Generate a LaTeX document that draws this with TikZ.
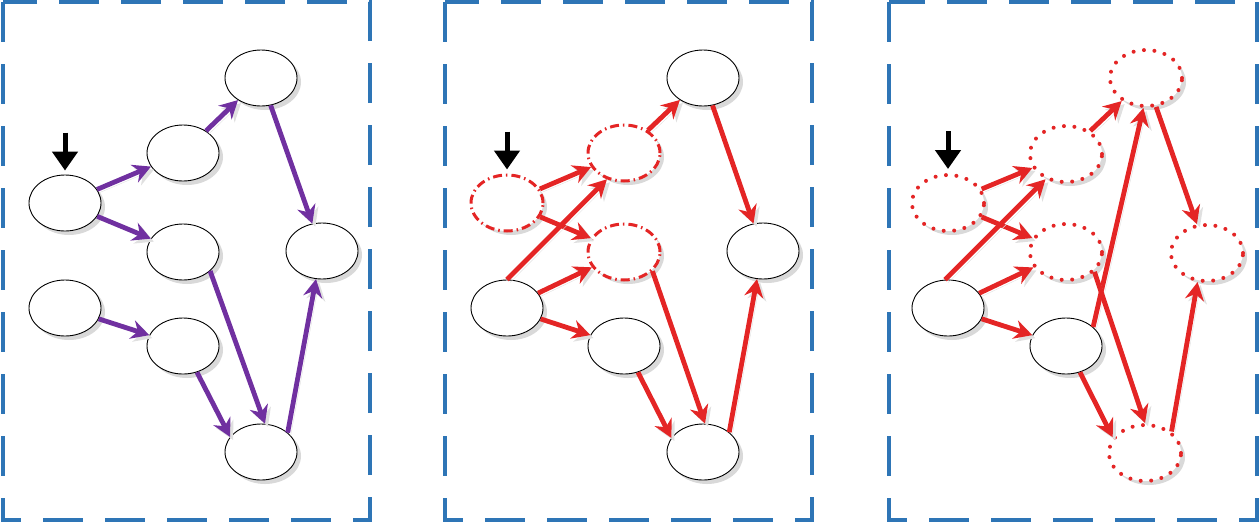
\documentclass[tikz,border=0pt]{standalone}
\usetikzlibrary{shapes.geometric,arrows.meta,calc,shadows}
\definecolor{BoxBlue}{RGB}{46,117,182}
\definecolor{PathPurple}{RGB}{112,48,160}
\definecolor{PathRed}{RGB}{228,37,37}
\begin{document}
\begin{tikzpicture}[x=1pt,y=-1pt,
  every node/.style={ellipse,draw,line width=0.9pt,fill=white,minimum width=72pt,minimum height=56pt,inner sep=0pt,drop shadow={shadow xshift=4pt,shadow yshift=-4pt,fill=black!15,opacity=1}},
  failed/.style={draw=PathRed,line width=3pt,dash pattern=on 9pt off 4pt on 1.5pt off 4pt},
  lost/.style={draw=PathRed,line width=4pt,line cap=round,dash pattern=on 0pt off 10.5pt},
  link/.style={line width=4.8pt,-{Stealth[length=18pt,width=19pt,inset=6pt]},preaction={draw=black!12,transform canvas={xshift=3pt,yshift=-3pt}}},
  purplelink/.style={link,draw=PathPurple},
  redlink/.style={link,draw=PathRed},
  pointer/.style={line width=5pt,-{Triangle[length=19pt,width=25pt]}},
  frame/.style={draw=BoxBlue,line width=4.5pt,dash pattern=on 40pt off 22pt}]
\useasboundingbox (0,0) rectangle (1260,523);
\draw[frame] (3,2) rectangle (370,520);
\draw[frame] (445,2) rectangle (812,520);
\draw[frame] (889,2) rectangle (1257,520);

\node (OneEntry) at (65,203) {};
\node (OneUpper) at (183,153) {};
\node (OneTop) at (261,78) {};
\node (OneCenter) at (183,252) {};
\node (OneSource) at (65,308) {};
\node (OneLower) at (183,346) {};
\node (OneRight) at (322,251) {};
\node (OneBottom) at (261,452) {};
\draw[pointer] ($(OneEntry.north)+(0,-42)$) -- ($(OneEntry.north)+(0,-4)$);
\draw[purplelink] (OneEntry) -- (OneUpper);
\draw[purplelink] (OneEntry) -- (OneCenter);
\draw[purplelink] (OneUpper) -- (OneTop);
\draw[purplelink] (OneTop) -- (OneRight);
\draw[purplelink] (OneCenter.-35) -- (OneBottom.82);
\draw[purplelink] (OneSource) -- (OneLower);
\draw[purplelink] (OneLower.-62) -- (OneBottom.154);
\draw[purplelink] (OneBottom.36) -- (OneRight.258);

\node[failed] (TwoEntry) at (507,203) {};
\node[failed] (TwoUpper) at (624,153) {};
\node (TwoTop) at (703,78) {};
\node[failed] (TwoCenter) at (624,252) {};
\node (TwoSource) at (507,308) {};
\node (TwoLower) at (624,346) {};
\node (TwoRight) at (763,251) {};
\node (TwoBottom) at (703,452) {};
\draw[pointer] ($(TwoEntry.north)+(0,-42)$) -- ($(TwoEntry.north)+(0,-4)$);
\draw[redlink] (TwoEntry) -- (TwoUpper);
\draw[redlink] (TwoEntry) -- (TwoCenter);
\draw[redlink] (TwoSource.90) -- (TwoUpper.237);
\draw[redlink] (TwoSource) -- (TwoCenter);
\draw[redlink] (TwoSource) -- (TwoLower);
\draw[redlink] (TwoUpper) -- (TwoTop);
\draw[redlink] (TwoTop) -- (TwoRight);
\draw[redlink] (TwoCenter.-34) -- (TwoBottom.86);
\draw[redlink] (TwoLower.-62) -- (TwoBottom.156);
\draw[redlink] (TwoBottom.37) -- (TwoRight.258);

\node[lost] (ThreeEntry) at (948,203) {};
\node[lost] (ThreeUpper) at (1066,154) {};
\node[lost] (ThreeTop) at (1146,78) {};
\node[lost] (ThreeCenter) at (1066,252) {};
\node (ThreeSource) at (948,308) {};
\node (ThreeLower) at (1066,346) {};
\node[lost] (ThreeRight) at (1207,253) {};
\node[lost] (ThreeBottom) at (1145,453) {};
\draw[pointer] ($(ThreeEntry.north)+(0,-42)$) -- ($(ThreeEntry.north)+(0,-4)$);
\draw[redlink] (ThreeEntry) -- (ThreeUpper);
\draw[redlink] (ThreeEntry) -- (ThreeCenter);
\draw[redlink] (ThreeSource.96) -- (ThreeUpper.231);
\draw[redlink] (ThreeSource) -- (ThreeCenter);
\draw[redlink] (ThreeSource) -- (ThreeLower);
\draw[redlink] (ThreeUpper) -- (ThreeTop);
\draw[redlink] (ThreeLower.35) -- (ThreeTop.265);
\draw[redlink] (ThreeTop) -- (ThreeRight);
\draw[redlink] (ThreeCenter.-35) -- (ThreeBottom.90);
\draw[redlink] (ThreeLower.-62) -- (ThreeBottom.154);
\draw[redlink] (ThreeBottom.39) -- (ThreeRight.252);
\end{tikzpicture}
\end{document}
